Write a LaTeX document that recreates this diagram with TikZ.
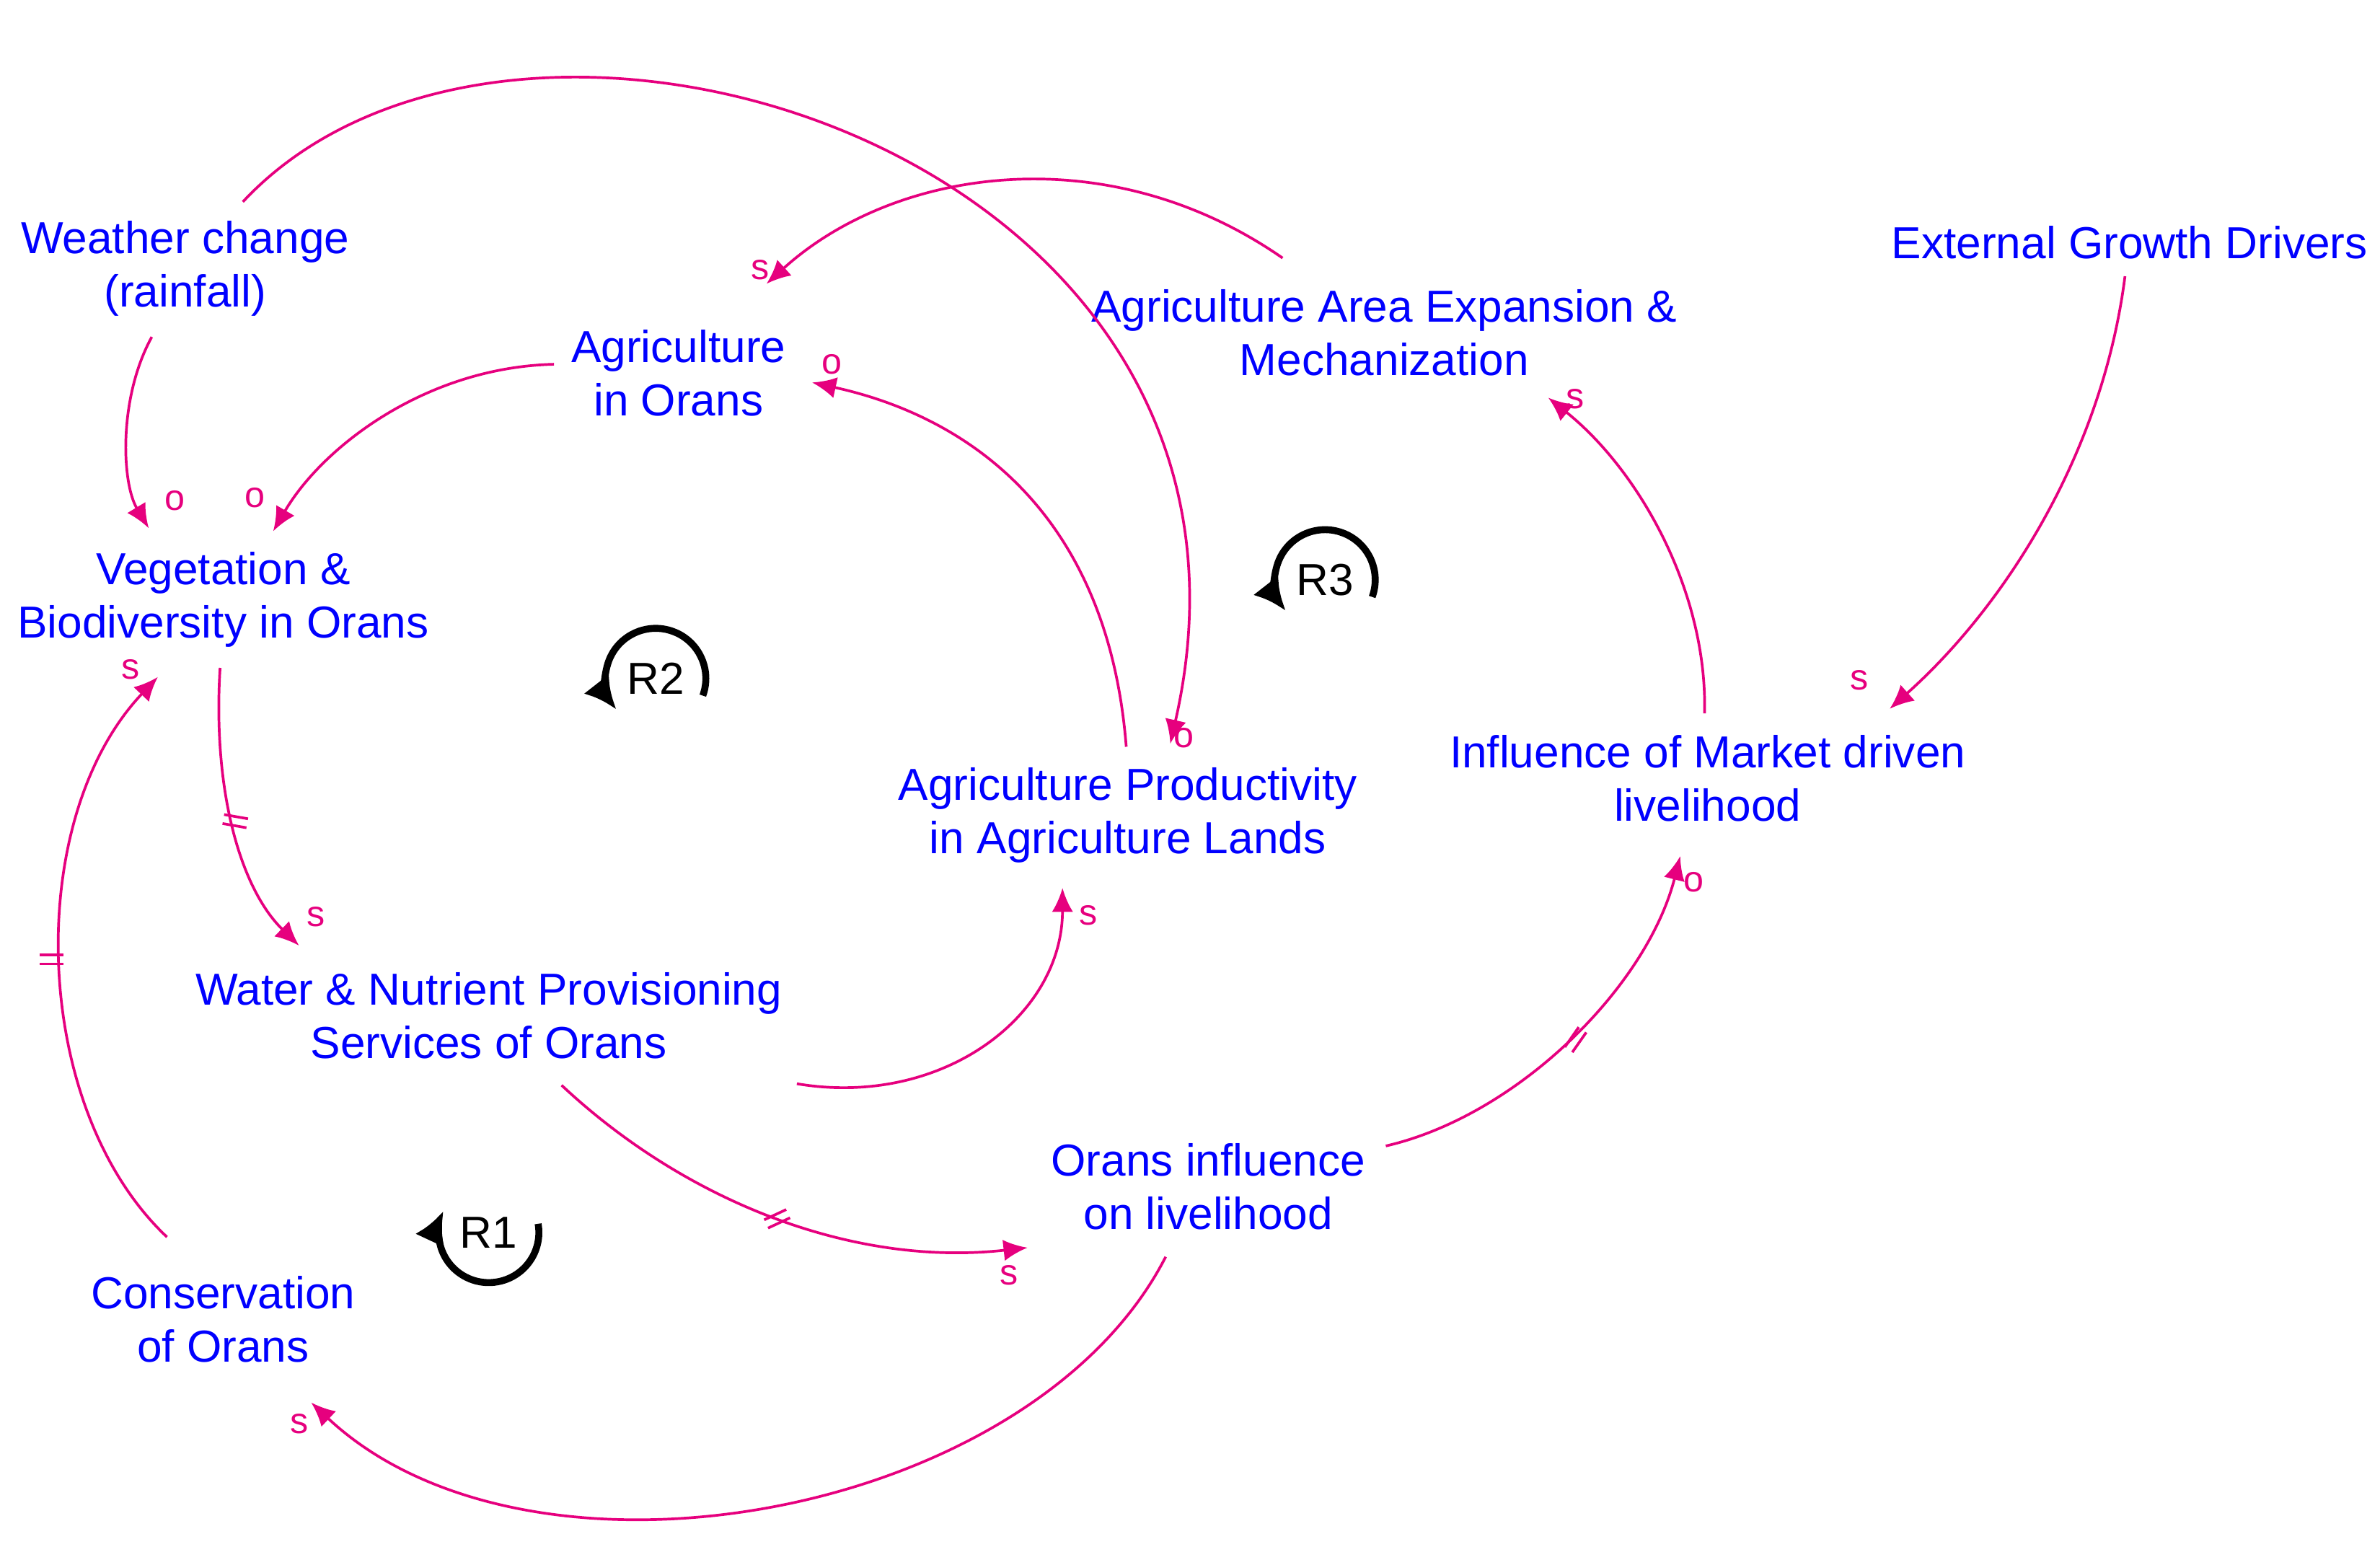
\documentclass[tikz,border=0pt]{standalone}
\usepackage{fontspec}
\setmainfont{Liberation Sans}
\usetikzlibrary{arrows.meta}
\definecolor{lk}{HTML}{E6007E}
\definecolor{tx}{HTML}{0000FF}
\begin{document}
\begin{tikzpicture}[x=0.01cm,y=-0.01cm,
  var/.style={text=tx,align=center,font=\fontsize{8.4}{10}\selectfont,inner sep=0pt},
  lnk/.style={draw=lk,line width=0.5pt,-{Latex[length=4.5pt,width=4pt]}},
  pol/.style={text=lk,font=\fontsize{6.8}{7}\selectfont,inner sep=0pt},
  loopa/.style={line width=1.3pt,-{Latex[length=6pt,width=6pt]}},
  lp/.style={font=\fontsize{8.4}{10}\selectfont,inner sep=0pt}]
\useasboundingbox (0,0) rectangle (1568,1019);
\newcommand{\hatchmark}[3]{\begin{scope}[shift={(#1,#2)},rotate=#3]
 \draw[lk,line width=0.5pt] (-3,-8)--(-3,8) (3,-8)--(3,8);\end{scope}}
\node[var] (wc) at (122,177) {Weather change\\(rainfall)};
\node[var] (ao) at (447,246) {Agriculture\\in Orans};
\node[var] (aa) at (912,219) {Agriculture Area Expansion \&\\Mechanization};
\node[var] (eg) at (1403,160) {External Growth Drivers};
\node[var] (vb) at (147,395) {Vegetation \&\\Biodiversity in Orans};
\node[var] (im) at (1125,513) {Influence of Market driven\\livelihood};
\node[var] (ap) at (743,537) {Agriculture Productivity\\in Agriculture Lands};
\node[var] (wn) at (322,669) {Water \& Nutrient Provisioning\\Services of Orans};
\node[var] (oi) at (796,782) {Orans influence\\on livelihood};
\node[var] (co) at (147,869) {Conservation\\of Orans};
% links
\draw[lnk] (160,133) .. controls (340,-60) and (860,100) .. (771,490);
\node[pol] at (780,486) {o};
\draw[lnk] (100,222) .. controls (78,262) and (80,318) .. (98,348);
\node[pol] at (115,330) {o};
\draw[lnk] (365,240) .. controls (280,242) and (212,295) .. (180,350);
\node[pol] at (168,328) {o};
\draw[lnk] (845,170) .. controls (730,90) and (590,110) .. (505,187);
\node[pol] at (501,178) {s};
\draw[lnk] (742,492) .. controls (730,340) and (640,275) .. (535,252);
\node[pol] at (548,240) {o};
\draw[lnk] (1123,470) .. controls (1125,390) and (1080,310) .. (1020,262);
\node[pol] at (1038,263) {s};
\draw[lnk] (1400,182) .. controls (1385,300) and (1320,400) .. (1245,467);
\node[pol] at (1225,448) {s};
\draw[lnk] (145,440) .. controls (140,520) and (158,585) .. (197,623);
\node[pol] at (208,604) {s};
\hatchmark{155}{541}{80}
\draw[lnk] (110,815) .. controls (20,730) and (15,540) .. (104,446);
\node[pol] at (86,441) {s};
\hatchmark{34}{632}{90}
\draw[lnk] (525,714) .. controls (620,730) and (700,670) .. (700,585);
\node[pol] at (717,603) {s};
\draw[lnk] (370,715) .. controls (450,790) and (560,835) .. (677,822);
\node[pol] at (665,840) {s};
\hatchmark{512}{803}{-65}
\draw[lnk] (913,755) .. controls (1000,735) and (1085,650) .. (1107,564);
\node[pol] at (1116,581) {o};
\hatchmark{1038}{685}{-35}
\draw[lnk] (768,828) .. controls (680,1000) and (350,1060) .. (205,924);
\node[pol] at (197,938) {s};
% loops
\coordinate (r1) at (322,812);
\draw[loopa] (r1) ++(10:0.33cm) arc[start angle=10,end angle=-205,radius=0.33cm];
\node[lp] at (r1) {R1};
\coordinate (r2) at (432,447);
\draw[loopa] (r2) ++(-20:0.33cm) arc[start angle=-20,end angle=218,radius=0.33cm];
\node[lp] at (r2) {R2};
\coordinate (r3) at (873,382);
\draw[loopa] (r3) ++(-20:0.33cm) arc[start angle=-20,end angle=218,radius=0.33cm];
\node[lp] at (r3) {R3};
\end{tikzpicture}
\end{document}
